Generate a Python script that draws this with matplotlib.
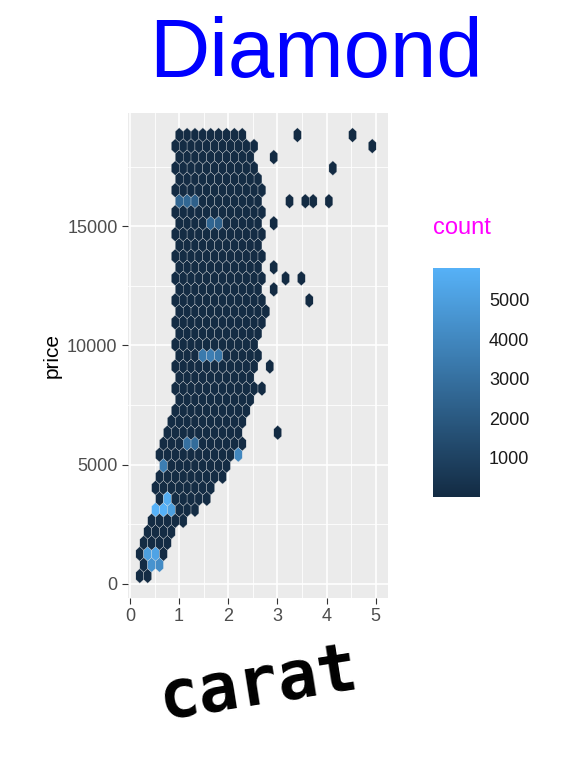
import numpy as np
import matplotlib
matplotlib.use("Agg")
import matplotlib.pyplot as plt
from matplotlib.colors import LinearSegmentedColormap

plt.rcParams["font.family"] = ["Liberation Sans", "DejaVu Sans"]

# hex columns: carat, lowest price, highest price (dense body of the data)
col_carat = [0.25, 0.35, 0.45, 0.55, 0.65, 0.75, 0.85, 0.95, 1.05, 1.15, 1.25, 1.35,
             1.45, 1.55, 1.65, 1.75, 1.85, 1.95, 2.05, 2.15, 2.25, 2.35, 2.45, 2.55, 2.65]
col_low = [0, 300, 500, 900, 1200, 1600, 2000, 2600, 2800, 3000, 3200, 3400,
           3600, 3800, 4000, 4300, 4600, 5000, 5300, 5600, 6000, 7000, 8000, 9000, 11000]
col_high = [1600, 2300, 3300, 4300, 5200, 6200, 7200, 18800, 18800, 18800, 18800, 18800,
            18800, 18800, 18800, 18800, 18800, 18800, 18800, 18800, 18800, 18800, 18500, 17500, 16500]

# bright cells: carat, price, count
hot_carat = [0.3, 0.35, 0.45, 0.55, 0.55, 0.65, 0.75, 0.85, 0.65, 0.75, 1.55, 1.65, 1.75, 1.85,
             1.05, 1.15, 1.25, 1.65, 1.75, 2.25, 1.15, 1.25, 0.45, 0.55]
hot_price = [1300, 1000, 1300, 1300, 3300, 3300, 3300, 3300, 5000, 5000, 9500, 9500, 9500, 9500,
             16000, 16000, 16000, 15000, 15000, 5500, 6000, 6000, 600, 600]
hot_count = [4500, 5000, 5200, 5000, 5800, 5800, 5600, 5000, 3600, 3400, 3400, 3600, 3300, 3000,
             2500, 2600, 2300, 2500, 2300, 4000, 3000, 2800, 4500, 4200]

# sparse outliers
out_carat = [3.4, 4.5, 5.0, 4.1, 3.0, 3.3, 3.5, 3.7, 4.0, 3.0, 3.2, 3.5, 3.7, 3.0, 2.8, 2.9,
             2.75, 3.0, 2.9, 2.7, 2.65]
out_price = [18700, 18700, 18200, 17200, 18000, 16000, 16000, 16000, 16000, 15000, 13000, 13000,
             11800, 12200, 11500, 9000, 8200, 6500, 13500, 14000, 10500]

xs, ys, cs = [], [], []
for c, lo, hi in zip(col_carat, col_low, col_high):
    for p in np.arange(lo, hi + 1, 250):
        xs.append(c)
        ys.append(p)
        cs.append(60)
for c, p, n in zip(hot_carat, hot_price, hot_count):
    xs.append(c)
    ys.append(p)
    cs.append(n)
for c, p in zip(out_carat, out_price):
    xs.append(c)
    ys.append(p)
    cs.append(5)

cmap = LinearSegmentedColormap.from_list("gg", ["#132B43", "#56B1F7"])

fig = plt.figure(figsize=(5.76, 7.68), dpi=100)
ax = fig.add_axes([128 / 576, 1 - 598 / 768, 260 / 576, 485 / 768])
ax.set_facecolor("#EBEBEB")
hb = ax.hexbin(xs, ys, C=cs, reduce_C_function=np.max, gridsize=(30, 20),
               extent=(0.2, 5.01, 326, 18823), cmap=cmap, vmin=1, vmax=5800,
               edgecolors="#EBEBEB", linewidths=0.2)
ax.set_xlim(-0.04, 5.25)
ax.set_ylim(-600, 19750)
ax.set_xticks([0, 1, 2, 3, 4, 5])
ax.set_yticks([0, 5000, 10000, 15000])
ax.set_xticks([0.5, 1.5, 2.5, 3.5, 4.5], minor=True)
ax.set_yticks([2500, 7500, 12500, 17500], minor=True)
ax.grid(True, which="major", color="white", linewidth=1.2)
ax.grid(True, which="minor", color="white", linewidth=0.6)
ax.set_axisbelow(True)
for s in ax.spines.values():
    s.set_visible(False)
ax.tick_params(which="both", length=4, color="#333333", labelsize=13, labelcolor="#4D4D4D")
ax.tick_params(which="minor", length=0)
ax.set_ylabel("price", fontsize=15)
ax.set_xlabel("carat", fontsize=48, fontweight="bold", family="DejaVu Sans Mono",
              rotation=9, labelpad=8)

fig.text(0.548, 0.928, "Diamond", color="blue", fontsize=60, ha="center", va="center")

cax = fig.add_axes([433 / 576, 1 - 497 / 768, 47 / 576, 229 / 768])
cb = fig.colorbar(hb, cax=cax, ticks=[1000, 2000, 3000, 4000, 5000])
cb.outline.set_visible(False)
cax.tick_params(labelsize=13, length=3, color="white", labelcolor="#1a1a1a")
fig.text(433 / 576, 1 - 228 / 768, "count", color="magenta", fontsize=17, va="center")

fig.savefig("out.png", dpi=100)
